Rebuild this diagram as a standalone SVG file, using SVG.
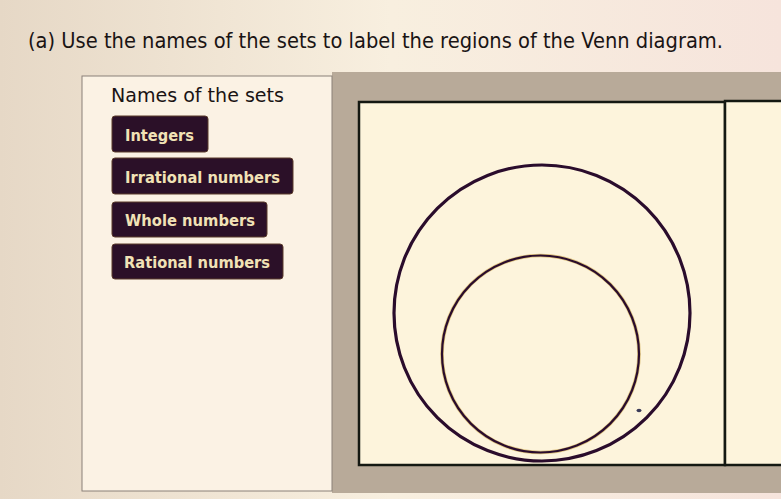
<svg xmlns="http://www.w3.org/2000/svg" width="781" height="499" viewBox="0 0 781 499">
  <defs>
    <linearGradient id="bg" x1="0" y1="0" x2="1" y2="0">
      <stop offset="0" stop-color="#e6d8c6"/>
      <stop offset="0.5" stop-color="#f8efdf"/>
      <stop offset="1" stop-color="#f6e4dc"/>
    </linearGradient>
    <style>
      .title { font-family: "DejaVu Sans", "Liberation Sans", sans-serif; font-size: 20.5px; fill: #1a1414; }
      .head { font-family: "DejaVu Sans", "Liberation Sans", sans-serif; font-size: 19.5px; fill: #1a1414; }
      .btn rect { fill: #2b1028; stroke: #5a3a2a; stroke-width: 1; }
      .btn text { font-family: "DejaVu Sans", "Liberation Sans", sans-serif; font-size: 15.5px; font-weight: bold; fill: #f1e2b6; }
      .frame { fill: #fdf4dc; stroke: #141812; stroke-width: 2.5; }
      .set { fill: none; stroke: #2a0c2c; }
    </style>
  </defs>

  <rect x="0" y="0" width="781" height="499" fill="url(#bg)"/>

  <text class="title" x="28" y="48" textLength="695" lengthAdjust="spacingAndGlyphs">(a) Use the names of the sets to label the regions of the Venn diagram.</text>

  <!-- gray workspace -->
  <rect x="332" y="72" width="449" height="421" fill="#b8aa99"/>

  <!-- names panel -->
  <g id="names-panel">
    <rect x="82" y="76" width="250" height="415" fill="#fbf2e4" stroke="#8a8078" stroke-width="1"/>
    <text class="head" x="111" y="102" textLength="173" lengthAdjust="spacingAndGlyphs">Names of the sets</text>
  </g>

  <g id="btn-integers" class="btn">
    <rect x="112" y="116" width="96" height="36" rx="3"/>
    <text x="125" y="141" textLength="69" lengthAdjust="spacingAndGlyphs">Integers</text>
  </g>
  <g id="btn-irrational" class="btn">
    <rect x="112" y="158" width="181" height="36" rx="3"/>
    <text x="125" y="183" textLength="155" lengthAdjust="spacingAndGlyphs">Irrational numbers</text>
  </g>
  <g id="btn-whole" class="btn">
    <rect x="112" y="202" width="155" height="35" rx="3"/>
    <text x="125" y="226" textLength="130" lengthAdjust="spacingAndGlyphs">Whole numbers</text>
  </g>
  <g id="btn-rational" class="btn">
    <rect x="112" y="244" width="171" height="35" rx="3"/>
    <text x="124" y="268" textLength="146" lengthAdjust="spacingAndGlyphs">Rational numbers</text>
  </g>

  <!-- Venn diagram -->
  <g id="universe">
    <rect class="frame" x="359" y="102" width="366" height="363"/>
  </g>
  <g id="right-box">
    <rect class="frame" x="725" y="101" width="70" height="364"/>
  </g>
  <g id="outer-set">
    <circle class="set" cx="542" cy="313" r="148" stroke-width="3.2"/>
  </g>
  <g id="inner-set">
    <circle cx="540.5" cy="354" r="98.5" fill="none" stroke="#c8a040" stroke-width="3.6" opacity="0.6"/>
    <circle class="set" cx="540.5" cy="354" r="98.5" stroke-width="2.2"/>
  </g>
  <ellipse cx="639" cy="410.5" rx="2.5" ry="1.8" fill="#3a3a58"/>
  <g id="connectors"/>
</svg>
